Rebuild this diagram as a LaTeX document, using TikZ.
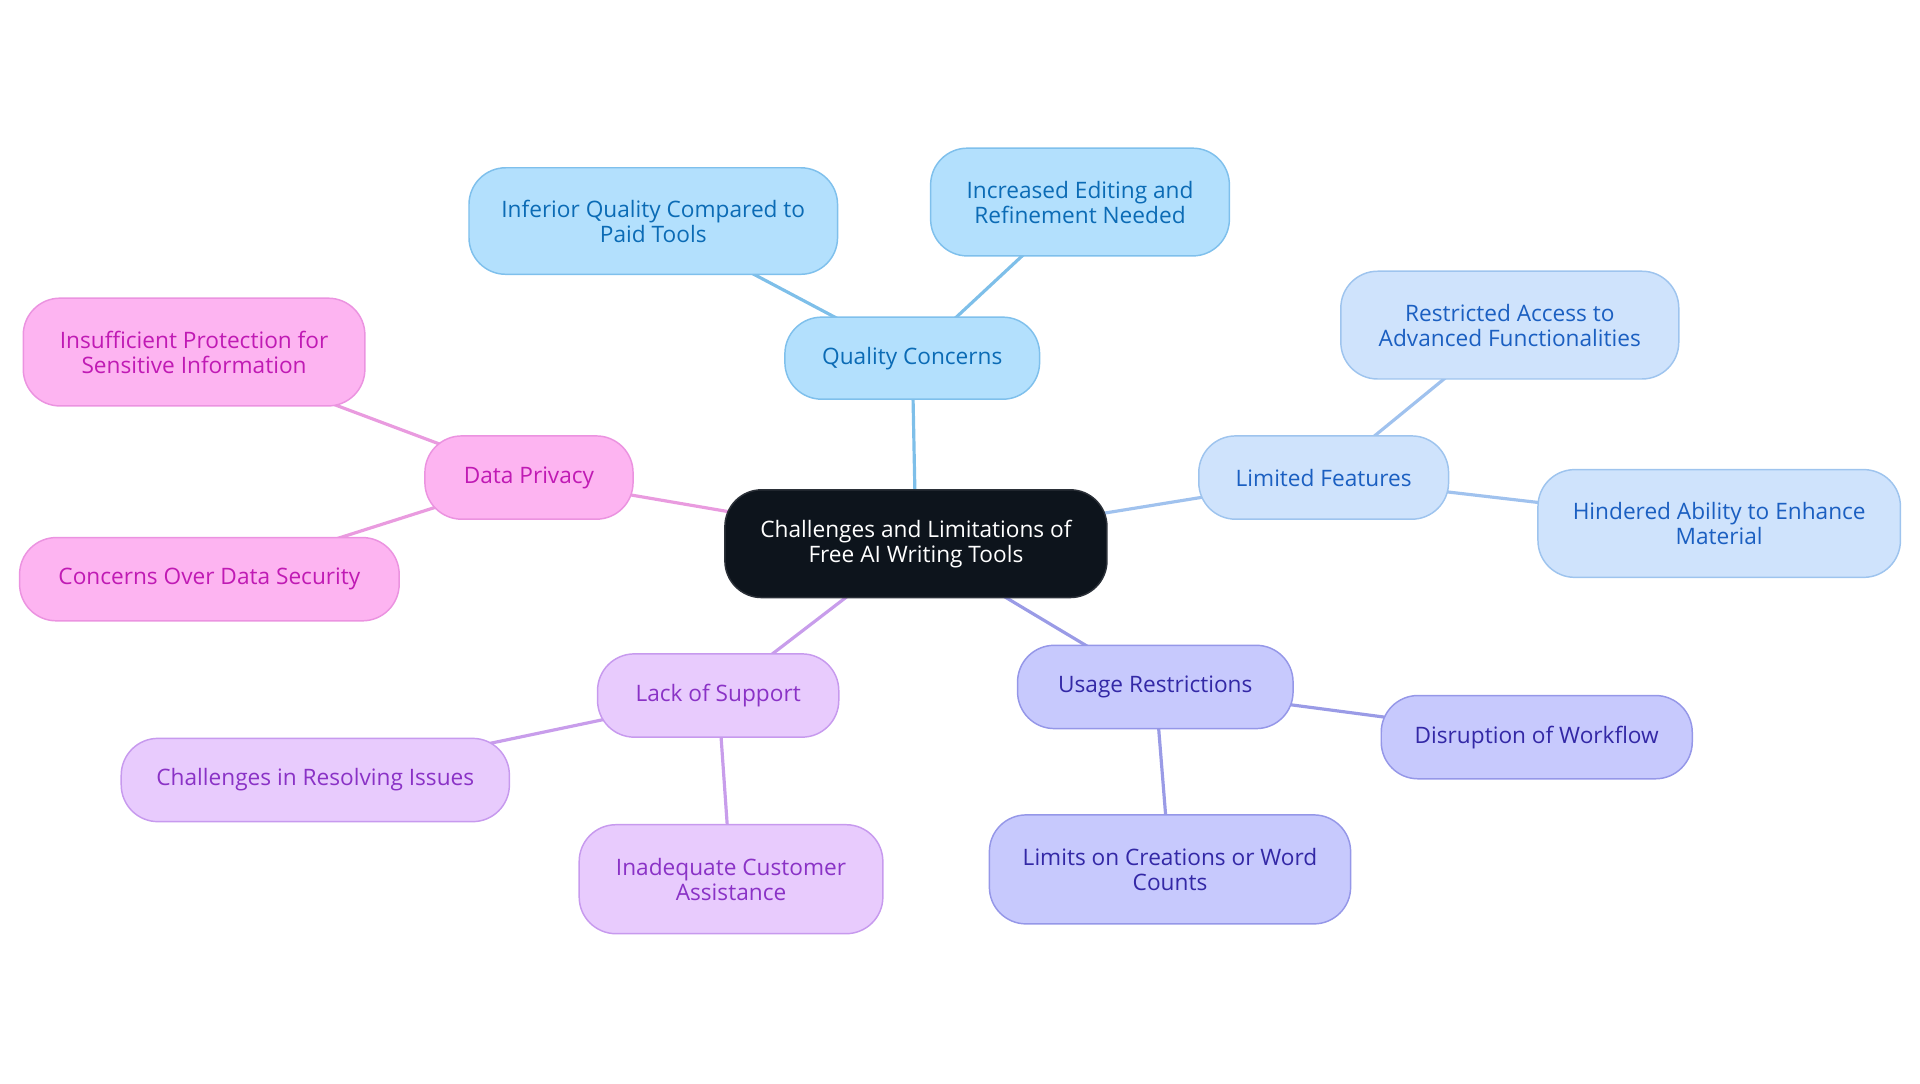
\documentclass[tikz,border=0pt]{standalone}
\usepackage{fontspec}
\setmainfont{Open Sans}
\usetikzlibrary{backgrounds}
\definecolor{cfill}{HTML}{0D141C}
\definecolor{cdraw}{HTML}{2B3038}
\definecolor{qfill}{HTML}{B3E0FD}
\definecolor{qdraw}{HTML}{7FC0EC}
\definecolor{qtext}{HTML}{0B6BB5}
\definecolor{qline}{HTML}{7EBFE9}
\definecolor{lfill}{HTML}{CFE3FC}
\definecolor{ldraw}{HTML}{9EC4EE}
\definecolor{ltext}{HTML}{1B5FC1}
\definecolor{lline}{HTML}{A0C2EE}
\definecolor{ufill}{HTML}{C7C9FD}
\definecolor{udraw}{HTML}{9597E8}
\definecolor{utext}{HTML}{3328A6}
\definecolor{uline}{HTML}{9A9BE6}
\definecolor{sfill}{HTML}{E8CBFD}
\definecolor{sdraw}{HTML}{C79AEE}
\definecolor{stext}{HTML}{8A32C6}
\definecolor{sline}{HTML}{C89DEB}
\definecolor{dfill}{HTML}{FDB4F1}
\definecolor{ddraw}{HTML}{EB93E0}
\definecolor{dtext}{HTML}{C01AB4}
\definecolor{dline}{HTML}{E99BDF}
\tikzset{
  box/.style={rectangle, rounded corners=30pt, align=center, inner sep=0pt,
    line width=1.2pt, font=\fontsize{18.5}{20.4}\selectfont},
  cbox/.style={box, fill=cfill, draw=cdraw, text=white},
  qbox/.style={box, fill=qfill, draw=qdraw, text=qtext},
  lbox/.style={box, fill=lfill, draw=ldraw, text=ltext},
  ubox/.style={box, fill=ufill, draw=udraw, text=utext},
  sbox/.style={box, fill=sfill, draw=sdraw, text=stext},
  dbox/.style={box, fill=dfill, draw=ddraw, text=dtext},
  conn/.style={line width=2.6pt}
}
\begin{document}
\begin{tikzpicture}[x=1pt,y=-1pt]
\useasboundingbox (0,0) rectangle (1568,884.5);
% nodes
\node[cbox, minimum width=312pt, minimum height=88pt] (c) at (748,444) {Challenges and Limitations of\\Free AI Writing Tools};
\node[qbox, minimum width=208pt, minimum height=67pt] (q) at (745,292.5) {Quality Concerns};
\node[qbox, minimum width=301pt, minimum height=87pt] (q1) at (533.5,180.5) {Inferior Quality Compared to\\Paid Tools};
\node[qbox, minimum width=244pt, minimum height=88pt] (q2) at (882,165) {Increased Editing and\\Refinement Needed};
\node[lbox, minimum width=204pt, minimum height=68pt] (l) at (1081,390) {Limited Features};
\node[lbox, minimum width=276pt, minimum height=88pt] (l1) at (1233,265.5) {Restricted Access to\\Advanced Functionalities};
\node[lbox, minimum width=296pt, minimum height=88pt] (l2) at (1404,427.5) {Hindered Ability to Enhance\\Material};
\node[ubox, minimum width=225pt, minimum height=68pt] (u) at (943.5,561) {Usage Restrictions};
\node[ubox, minimum width=254pt, minimum height=68pt] (u1) at (1255,602) {Disruption of Workflow};
\node[ubox, minimum width=295pt, minimum height=89pt] (u2) at (955.5,710) {Limits on Creations or Word\\Counts};
\node[sbox, minimum width=197pt, minimum height=68pt] (s) at (586.5,568) {Lack of Support};
\node[sbox, minimum width=317pt, minimum height=68pt] (s1) at (257.5,637) {Challenges in Resolving Issues};
\node[sbox, minimum width=248pt, minimum height=89pt] (s2) at (597,718) {Inadequate Customer\\Assistance};
\node[dbox, minimum width=170pt, minimum height=68pt] (d) at (432,390) {Data Privacy};
\node[dbox, minimum width=279pt, minimum height=88pt] (d1) at (158.5,287.5) {Insufficient Protection for\\Sensitive Information};
\node[dbox, minimum width=310pt, minimum height=68pt] (d2) at (171,473) {Concerns Over Data Security};
% connectors
\begin{scope}[on background layer]
\draw[conn, qline] (c.center) -- (q.center);
\draw[conn, qline] (q.center) -- (q1.center);
\draw[conn, qline] (q.center) -- (q2.center);
\draw[conn, lline] (c.center) -- (l.center);
\draw[conn, lline] (l.center) -- (l1.center);
\draw[conn, lline] (l.center) -- (l2.center);
\draw[conn, uline] (c.center) -- (u.center);
\draw[conn, uline] (u.center) -- (u1.center);
\draw[conn, uline] (u.center) -- (u2.center);
\draw[conn, sline] (c.center) -- (s.center);
\draw[conn, sline] (s.center) -- (s1.center);
\draw[conn, sline] (s.center) -- (s2.center);
\draw[conn, dline] (c.center) -- (d.center);
\draw[conn, dline] (d.center) -- (d1.center);
\draw[conn, dline] (d.center) -- (d2.center);
\end{scope}
\end{tikzpicture}
\end{document}
